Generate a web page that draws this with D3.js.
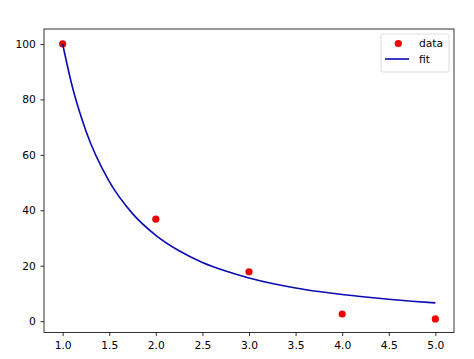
<!DOCTYPE html>
<html>
<head>
<meta charset="utf-8">
<script src="https://cdn.jsdelivr.net/npm/d3@7"></script>
<style>
  html, body { margin: 0; padding: 0; background: #fff; }
  svg { display: block; }
</style>
</head>
<body>
<svg id="chart" width="474" height="359"></svg>
<script>
// Data
const dataX = [1, 2, 3, 4, 5];
const dataY = [100, 36.8, 17.8, 2.6, 0.8];

const fitX = [1, 1.1, 1.25, 1.5, 1.75, 2, 2.25, 2.5, 2.75, 3, 3.25, 3.5, 3.75, 4, 4.25, 4.5, 4.75, 5];
const fitY = [100, 85.1, 68.6, 50.4, 38.8, 31.0, 25.4, 21.2, 18.1, 15.6, 13.6, 12.0, 10.7, 9.6, 8.7, 7.9, 7.2, 6.6];

const xTicks = [1.0, 1.5, 2.0, 2.5, 3.0, 3.5, 4.0, 4.5, 5.0];
const yTicks = [0, 20, 40, 60, 80, 100];

const legendLabels = ["data", "fit"];

const W = 474, H = 359;
const margin = { left: 44, right: 20, top: 29, bottom: 26.5 };
const innerW = W - margin.left - margin.right;
const innerH = H - margin.top - margin.bottom;

const pointColor = "#ee0000";
const lineColor = "#0a0ab4";
const font = "DejaVu Sans, sans-serif";
const fontSize = "10.7px";

const svg = d3.select("#chart");
const g = svg.append("g").attr("transform", `translate(${margin.left},${margin.top})`);

const x = d3.scaleLinear().domain([0.8, 5.2]).range([0, innerW]);
const y = d3.scaleLinear().domain([-4.08, 105.4]).range([innerH, 0]);

// Points (drawn first, line on top)
g.append("g").selectAll("circle")
  .data(dataX.map((d, i) => [d, dataY[i]]))
  .join("circle")
  .attr("cx", d => x(d[0]))
  .attr("cy", d => y(d[1]))
  .attr("r", 3.6)
  .attr("fill", pointColor);

// Fit line
const line = d3.line()
  .x(d => x(d[0]))
  .y(d => y(d[1]))
  .curve(d3.curveMonotoneX);
g.append("path")
  .datum(fitX.map((d, i) => [d, fitY[i]]))
  .attr("d", line)
  .attr("fill", "none")
  .attr("stroke", lineColor)
  .attr("stroke-width", 1.6);

// Axes
const xAxis = d3.axisBottom(x).tickValues(xTicks).tickFormat(d3.format(".1f"))
  .tickSizeOuter(0).tickSize(3.6).tickPadding(5.5);
const yAxis = d3.axisLeft(y).tickValues(yTicks).tickFormat(d3.format("d"))
  .tickSizeOuter(0).tickSize(3.6).tickPadding(4.5);

const gx = g.append("g").attr("transform", `translate(0,${innerH})`).call(xAxis);
const gy = g.append("g").call(yAxis);
[gx, gy].forEach(a => {
  a.select(".domain").remove();
  a.selectAll(".tick line").attr("stroke", "#000").attr("stroke-width", 0.8);
  a.selectAll(".tick text").attr("fill", "#000").style("font-family", font).style("font-size", fontSize);
});

// Frame (spines)
g.append("rect")
  .attr("x", 0).attr("y", 0)
  .attr("width", innerW).attr("height", innerH)
  .attr("fill", "none")
  .attr("stroke", "#000")
  .attr("stroke-width", 0.8);

// Legend
const lg = g.append("g").attr("transform", `translate(${381 - margin.left},${34 - margin.top})`);
lg.append("rect")
  .attr("x", 0).attr("y", 0)
  .attr("width", 68).attr("height", 38)
  .attr("rx", 2).attr("ry", 2)
  .attr("fill", "#fff").attr("fill-opacity", 0.8)
  .attr("stroke", "#d6d6d6").attr("stroke-width", 0.8);
lg.append("circle")
  .attr("cx", 17.3).attr("cy", 9.5).attr("r", 3.6).attr("fill", pointColor);
lg.append("line")
  .attr("x1", 4).attr("x2", 28).attr("y1", 25).attr("y2", 25)
  .attr("stroke", lineColor).attr("stroke-width", 1.6);
lg.selectAll("text.lbl")
  .data(legendLabels)
  .join("text")
  .attr("class", "lbl")
  .attr("x", 38)
  .attr("y", (d, i) => 9.5 + i * 15.5)
  .attr("dy", "0.35em")
  .style("font-family", font)
  .style("font-size", fontSize)
  .attr("fill", "#000")
  .text(d => d);
</script>
</body>
</html>
